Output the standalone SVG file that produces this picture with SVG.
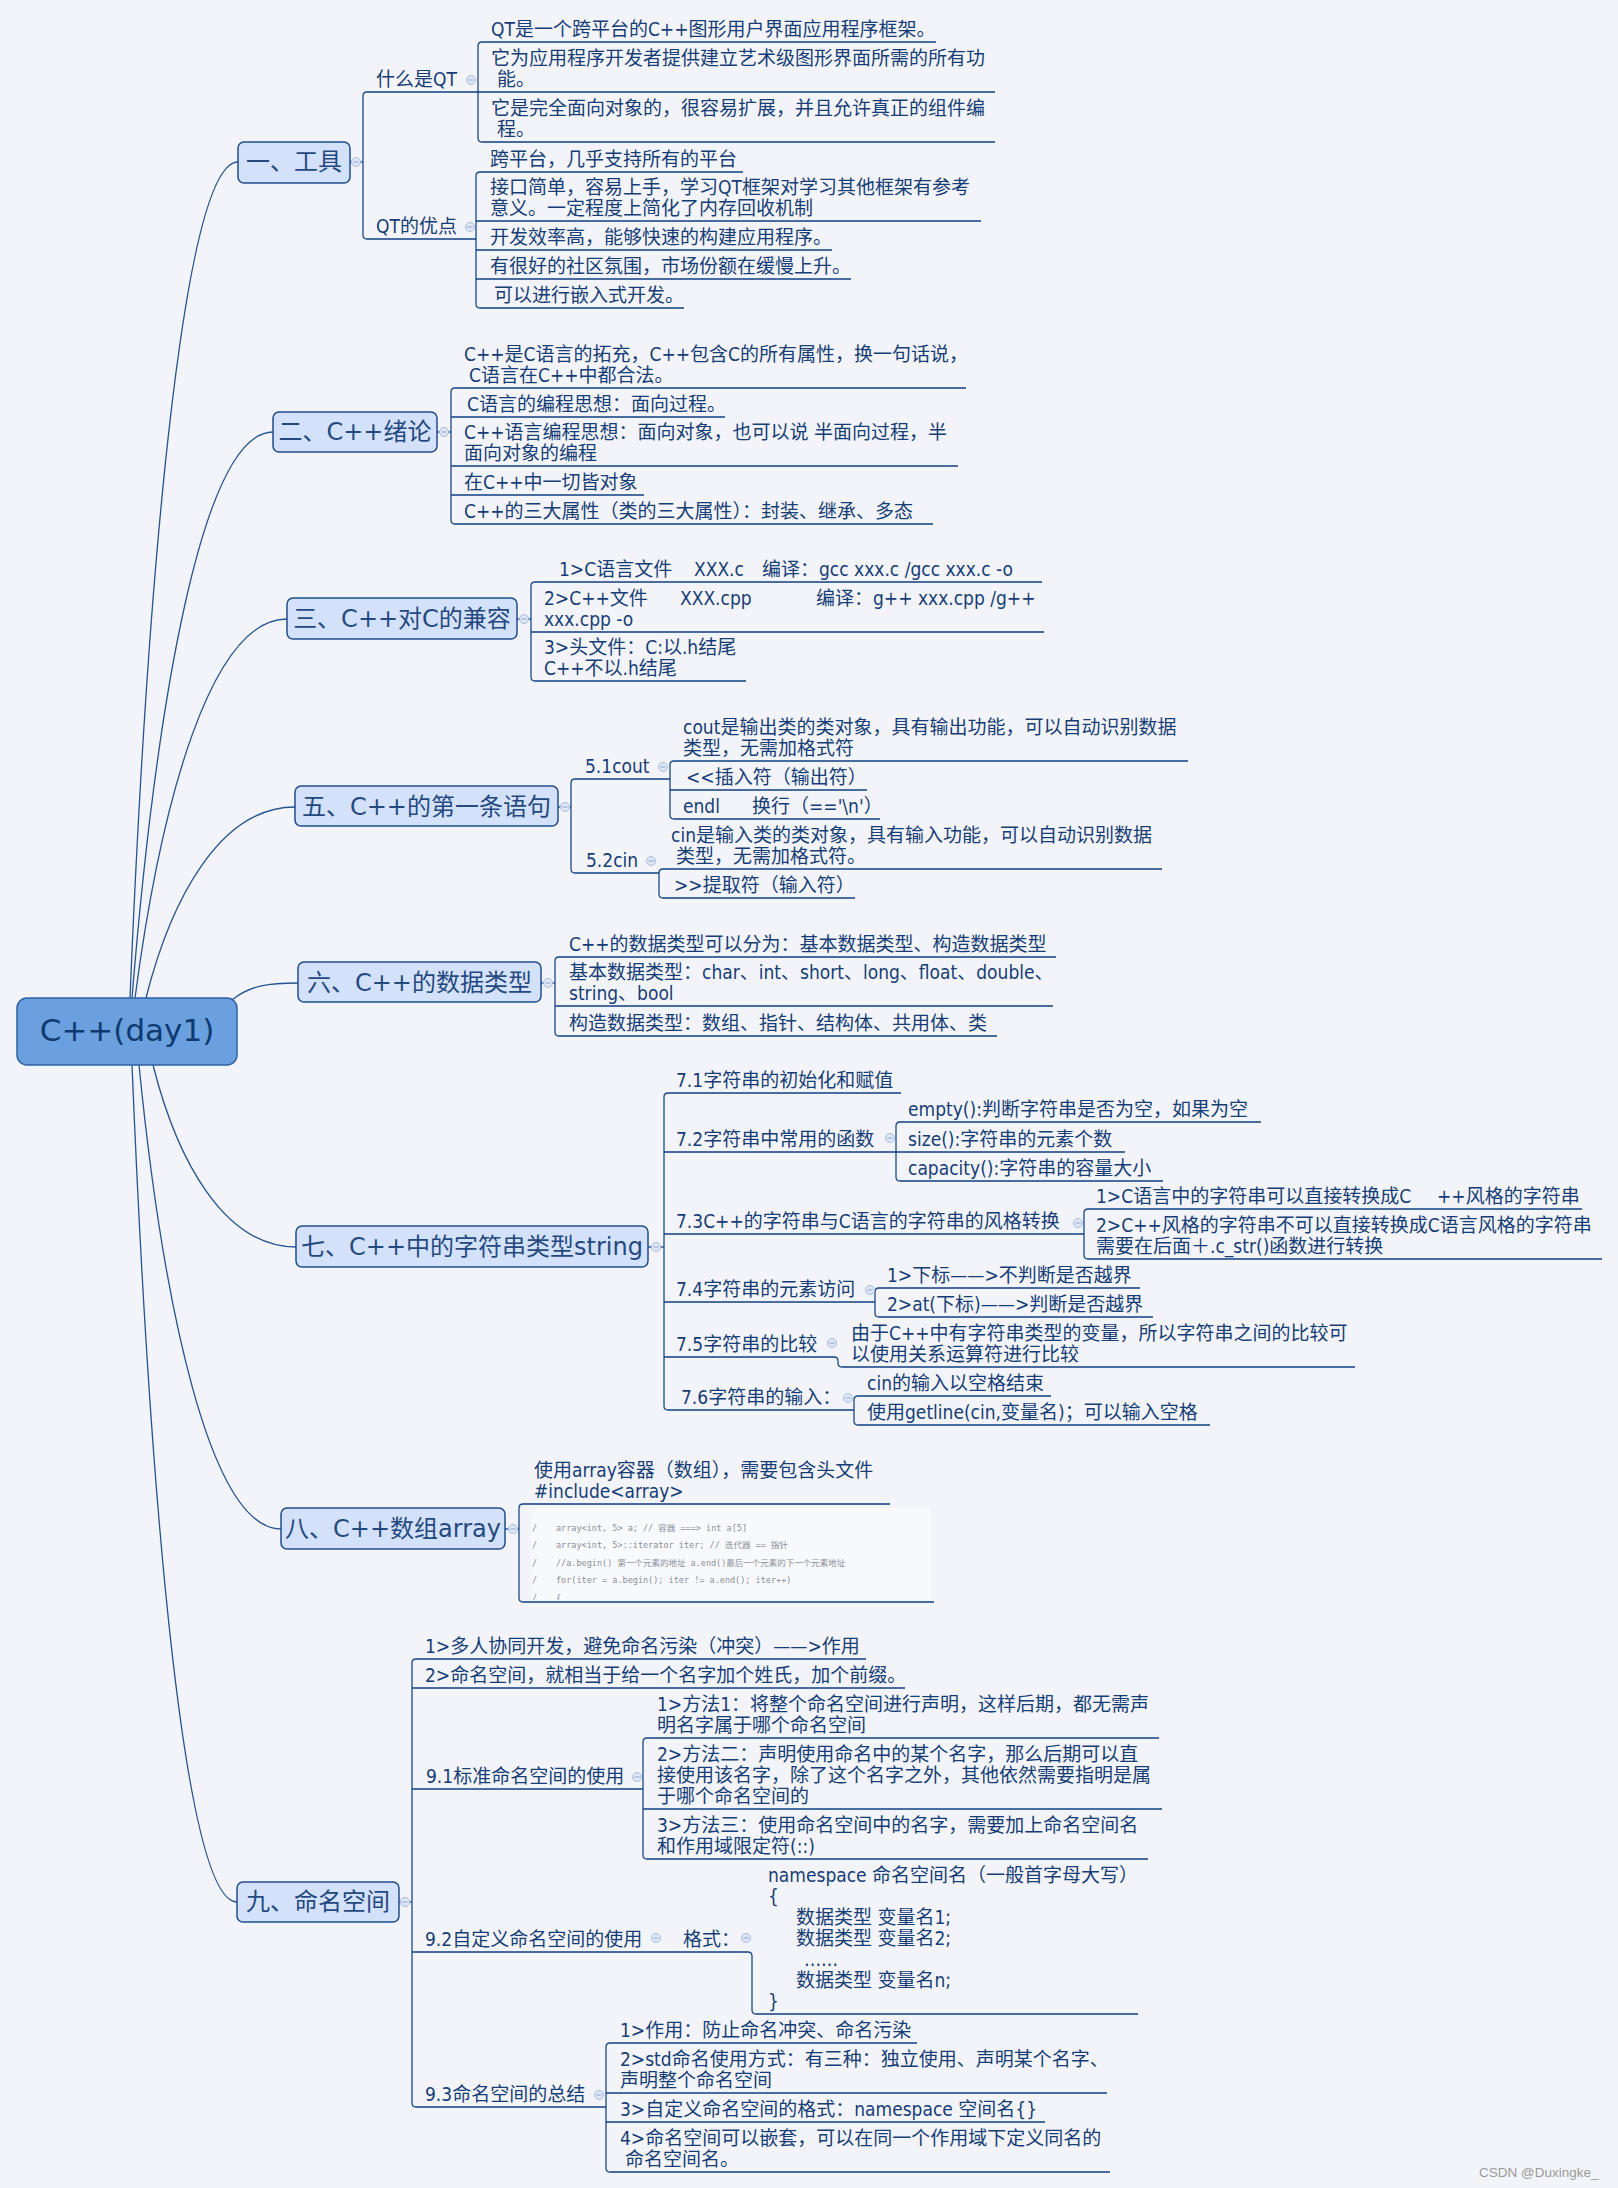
<svg xmlns="http://www.w3.org/2000/svg" xmlns:xlink="http://www.w3.org/1999/xlink" width="1618" height="2188" viewBox="0 0 1618 2188">
<defs>
<style>
.t{font-family:"DejaVu Sans Condensed","DejaVu Sans","Noto Sans CJK SC",sans-serif;font-size:19px;fill:#163d75}
.m{font-family:"DejaVu Sans","Noto Sans CJK SC",sans-serif;font-size:24px;fill:#24497f;text-anchor:middle}
.r{font-family:"DejaVu Sans","Noto Sans CJK SC",sans-serif;font-size:31px;fill:#0e3a70;text-anchor:middle}
.u{fill:none;stroke:#0f3f80;stroke-width:1.6}
.b{fill:none;stroke:#1a4a88;stroke-width:1.3}
.c{fill:none;stroke:#25548f;stroke-width:1.3}
.box{fill:#d4e1fb;stroke:#1f4d8c;stroke-width:1.5}
.code{font-family:"DejaVu Sans Mono","Noto Sans CJK SC",monospace;font-size:8.5px;fill:#8a8f99}
.wm{font-family:"Liberation Sans",Arial,sans-serif;font-size:13.5px;fill:#9a9a9a}
</style>
<g id="col"><circle cx="0" cy="0" r="4.5" fill="#dfe7f6" stroke="#a9bbdd" stroke-width="1"/><path d="M-2.5 0H2.5" stroke="#8ea5d0" stroke-width="1"/></g>
<clipPath id="codeclip"><rect x="531" y="1508" width="400" height="92"/></clipPath>
</defs>
<rect width="1618" height="2188" fill="#f3f4f9"/>

<g id="connectors">
<path class="c" d="M130,998 C148,563 184,162 238,162"/>
<path class="c" d="M132,998 C156,704 202,432 273,432"/>
<path class="c" d="M135,998 C161,801 211,619 287,619"/>
<path class="c" d="M146,998 C171,899 220,807 295,807"/>
<path class="c" d="M232,1000 C250,985 270,983 298,983"/>
<path class="c" d="M153,1065 C177,1160 224,1247 296,1247"/>
<path class="c" d="M139,1065 C163,1306 210,1529 281,1529"/>
<path class="c" d="M132,1065 C150,1500 184,1902 237,1902"/>
<!-- section 1 -->
<path class="b" d="M350,162H363"/>
<path class="b" d="M367,92 Q363,92 363,96 V235 Q363,239 367,239"/>
<path class="b" d="M482,42 Q478,42 478,46 V138 Q478,142 482,142"/>
<path class="b" d="M480,172 Q476,172 476,176 V304 Q476,308 480,308"/>
<!-- section 2 -->
<path class="b" d="M437,432H451"/>
<path class="b" d="M455,388 Q451,388 451,392 V520 Q451,524 455,524"/>
<!-- section 3 -->
<path class="b" d="M517,619H531"/>
<path class="b" d="M535,582 Q531,582 531,586 V677 Q531,681 535,681"/>
<!-- section 5 -->
<path class="b" d="M558,807H571"/>
<path class="b" d="M575,779 Q571,779 571,783 V869 Q571,873 575,873"/>
<path class="b" d="M674,761 Q670,761 670,765 V815 Q670,819 674,819"/>
<path class="b" d="M663,869 Q659,869 659,873 V894 Q659,898 663,898"/>
<!-- section 6 -->
<path class="b" d="M541,983H555"/>
<path class="b" d="M559,957 Q555,957 555,961 V1032 Q555,1036 559,1036"/>
<!-- section 7 -->
<path class="b" d="M648,1247H664"/>
<path class="b" d="M668,1093 Q664,1093 664,1097 V1406 Q664,1410 668,1410"/>
<path class="b" d="M900,1122 Q896,1122 896,1126 V1177 Q896,1181 900,1181"/>
<path class="b" d="M1088,1209 Q1084,1209 1084,1213 V1255 Q1084,1259 1088,1259"/>
<path class="b" d="M879,1288 Q875,1288 875,1292 V1313 Q875,1317 879,1317"/>
<path class="b" d="M834,1357 Q838,1357 838,1361 V1363 Q838,1367 842,1367"/>
<path class="b" d="M858,1396 Q854,1396 854,1400 V1421 Q854,1425 858,1425"/>
<!-- section 8 -->
<path class="b" d="M505,1529H519"/>
<path class="b" d="M523,1504 Q519,1504 519,1508 V1598 Q519,1602 523,1602"/>
<!-- section 9 -->
<path class="b" d="M399,1902H412"/>
<path class="b" d="M416,1659 Q412,1659 412,1663 V2103 Q412,2107 416,2107"/>
<path class="b" d="M647,1738 Q643,1738 643,1742 V1855 Q643,1859 647,1859"/>
<path class="b" d="M748,1952 Q752,1952 752,1956 V2010 Q752,2014 756,2014"/>
<path class="b" d="M610,2043 Q606,2043 606,2047 V2168 Q606,2172 610,2172"/>
</g>

<g id="root">
<rect x="17" y="998" width="220" height="67" rx="10" fill="#6aa0de" stroke="#2e62a3" stroke-width="1.5"/>
<text class="r" x="127" y="1041">C++(day1)</text>
</g>

<!-- ===== 一、工具 ===== -->
<g id="n1">
<rect class="box" x="238" y="142" width="112" height="41" rx="6"/>
<text class="m" x="294" y="170">一、工具</text>
<use href="#col" x="356" y="162"/>
</g>
<g id="n1-1">
<text class="t" x="376" y="86">什么是QT</text>
<path class="u" d="M367,92H478"/>
<use href="#col" x="471" y="80"/>
</g>
<g id="n1-1-1"><text class="t" x="491" y="36">QT是一个跨平台的C++图形用户界面应用程序框架。</text><path class="u" d="M482,42H936"/></g>
<g id="n1-1-2"><text class="t" x="491" y="65">它为应用程序开发者提供建立艺术级图形界面所需的所有功</text><text class="t" x="497" y="86">能。</text><path class="u" d="M478,92H995"/></g>
<g id="n1-1-3"><text class="t" x="491" y="115">它是完全面向对象的，很容易扩展，并且允许真正的组件编</text><text class="t" x="497" y="136">程。</text><path class="u" d="M482,142H995"/></g>
<g id="n1-2">
<text class="t" x="376" y="233">QT的优点</text>
<path class="u" d="M367,239H476"/>
<use href="#col" x="470" y="227"/>
</g>
<g id="n1-2-1"><text class="t" x="490" y="166">跨平台，几乎支持所有的平台</text><path class="u" d="M480,172H743"/></g>
<g id="n1-2-2"><text class="t" x="490" y="194">接口简单，容易上手，学习QT框架对学习其他框架有参考</text><text class="t" x="490" y="215">意义。一定程度上简化了内存回收机制</text><path class="u" d="M476,221H981"/></g>
<g id="n1-2-3"><text class="t" x="490" y="244">开发效率高，能够快速的构建应用程序。</text><path class="u" d="M476,250H832"/></g>
<g id="n1-2-4"><text class="t" x="490" y="273">有很好的社区氛围，市场份额在缓慢上升。</text><path class="u" d="M476,279H851"/></g>
<g id="n1-2-5"><text class="t" x="494" y="302">可以进行嵌入式开发。</text><path class="u" d="M480,308H684"/></g>

<!-- ===== 二、C++绪论 ===== -->
<g id="n2">
<rect class="box" x="273" y="412" width="164" height="40" rx="6"/>
<text class="m" x="355" y="440">二、C++绪论</text>
<use href="#col" x="444" y="432"/>
</g>
<g id="n2-1"><text class="t" x="464" y="361">C++是C语言的拓充，C++包含C的所有属性，换一句话说，</text><text class="t" x="469" y="382">C语言在C++中都合法。</text><path class="u" d="M455,388H966"/></g>
<g id="n2-2"><text class="t" x="467" y="411">C语言的编程思想：面向过程。</text><path class="u" d="M451,417H725"/></g>
<g id="n2-3"><text class="t" x="464" y="439">C++语言编程思想：面向对象，也可以说 半面向过程，半</text><text class="t" x="464" y="460">面向对象的编程</text><path class="u" d="M451,466H958"/></g>
<g id="n2-4"><text class="t" x="464" y="489">在C++中一切皆对象</text><path class="u" d="M451,495H644"/></g>
<g id="n2-5"><text class="t" x="464" y="518">C++的三大属性（类的三大属性）：封装、继承、多态</text><path class="u" d="M455,524H933"/></g>

<!-- ===== 三、C++对C的兼容 ===== -->
<g id="n3">
<rect class="box" x="287" y="598" width="230" height="41" rx="6"/>
<text class="m" x="402" y="627">三、C++对C的兼容</text>
<use href="#col" x="524" y="619"/>
</g>
<g id="n3-1"><text class="t" x="559" y="576">1&gt;C语言文件<tspan x="694">XXX.c</tspan><tspan x="762">编译：gcc xxx.c /gcc xxx.c -o</tspan></text><path class="u" d="M535,582H1042"/></g>
<g id="n3-2"><text class="t" x="544" y="605">2&gt;C++文件<tspan x="680">XXX.cpp</tspan><tspan x="816">编译：g++ xxx.cpp /g++</tspan></text><text class="t" x="544" y="626">xxx.cpp -o</text><path class="u" d="M531,632H1044"/></g>
<g id="n3-3"><text class="t" x="544" y="654">3&gt;头文件：C:以.h结尾</text><text class="t" x="544" y="675">C++不以.h结尾</text><path class="u" d="M535,681H746"/></g>

<!-- ===== 五、C++的第一条语句 ===== -->
<g id="n5">
<rect class="box" x="295" y="786" width="263" height="40" rx="6"/>
<text class="m" x="426.5" y="815">五、C++的第一条语句</text>
<use href="#col" x="565" y="807"/>
</g>
<g id="n5-1">
<text class="t" x="585" y="773">5.1cout</text>
<path class="u" d="M575,779H670"/>
<use href="#col" x="663" y="767"/>
</g>
<g id="n5-1-1"><text class="t" x="683" y="734">cout是输出类的类对象，具有输出功能，可以自动识别数据</text><text class="t" x="683" y="755">类型，无需加格式符</text><path class="u" d="M674,761H1188"/></g>
<g id="n5-1-2"><text class="t" x="686" y="784">&lt;&lt;插入符（输出符）</text><path class="u" d="M670,790H867"/></g>
<g id="n5-1-3"><text class="t" x="683" y="813">endl<tspan x="752">换行（=='\n'）</tspan></text><path class="u" d="M674,819H880"/></g>
<g id="n5-2">
<text class="t" x="586" y="867">5.2cin</text>
<path class="u" d="M575,873H659"/>
<use href="#col" x="651" y="861"/>
</g>
<g id="n5-2-1"><text class="t" x="671" y="842">cin是输入类的类对象，具有输入功能，可以自动识别数据</text><text class="t" x="676" y="863">类型，无需加格式符。</text><path class="u" d="M663,869H1162"/></g>
<g id="n5-2-2"><text class="t" x="674" y="892">&gt;&gt;提取符（输入符）</text><path class="u" d="M663,898H855"/></g>

<!-- ===== 六、C++的数据类型 ===== -->
<g id="n6">
<rect class="box" x="298" y="962" width="243" height="40" rx="6"/>
<text class="m" x="419.5" y="991">六、C++的数据类型</text>
<use href="#col" x="548" y="983"/>
</g>
<g id="n6-1"><text class="t" x="569" y="951">C++的数据类型可以分为：基本数据类型、构造数据类型</text><path class="u" d="M559,957H1056"/></g>
<g id="n6-2"><text class="t" x="569" y="979">基本数据类型：char、int、short、long、float、double、</text><text class="t" x="569" y="1000">string、bool</text><path class="u" d="M555,1006H1053"/></g>
<g id="n6-3"><text class="t" x="569" y="1030">构造数据类型：数组、指针、结构体、共用体、类</text><path class="u" d="M559,1036H997"/></g>

<!-- ===== 七、C++中的字符串类型string ===== -->
<g id="n7">
<rect class="box" x="296" y="1226" width="352" height="41" rx="6"/>
<text class="m" x="472" y="1255">七、C++中的字符串类型string</text>
<use href="#col" x="656" y="1247"/>
</g>
<g id="n7-1"><text class="t" x="676" y="1087">7.1字符串的初始化和赋值</text><path class="u" d="M668,1093H901"/></g>
<g id="n7-2">
<text class="t" x="676" y="1146">7.2字符串中常用的函数</text>
<path class="u" d="M664,1152H896"/>
<use href="#col" x="890" y="1138"/>
</g>
<g id="n7-2-1"><text class="t" x="908" y="1116">empty():判断字符串是否为空，如果为空</text><path class="u" d="M900,1122H1261"/></g>
<g id="n7-2-2"><text class="t" x="908" y="1146">size():字符串的元素个数</text><path class="u" d="M896,1152H1125"/></g>
<g id="n7-2-3"><text class="t" x="908" y="1175">capacity():字符串的容量大小</text><path class="u" d="M900,1181H1163"/></g>
<g id="n7-3">
<text class="t" x="676" y="1228">7.3C++的字符串与C语言的字符串的风格转换</text>
<path class="u" d="M664,1234H1084"/>
<use href="#col" x="1078" y="1223"/>
</g>
<g id="n7-3-1"><text class="t" x="1096" y="1203">1&gt;C语言中的字符串可以直接转换成C<tspan x="1437">++风格的字符串</tspan></text><path class="u" d="M1088,1209H1582"/></g>
<g id="n7-3-2"><text class="t" x="1096" y="1232">2&gt;C++风格的字符串不可以直接转换成C语言风格的字符串</text><text class="t" x="1096" y="1253">需要在后面＋.c_str()函数进行转换</text><path class="u" d="M1088,1259H1602"/></g>
<g id="n7-4">
<text class="t" x="676" y="1296">7.4字符串的元素访问</text>
<path class="u" d="M664,1302H875"/>
<use href="#col" x="870" y="1290"/>
</g>
<g id="n7-4-1"><text class="t" x="887" y="1282">1&gt;下标——&gt;不判断是否越界</text><path class="u" d="M879,1288H1140"/></g>
<g id="n7-4-2"><text class="t" x="887" y="1311">2&gt;at(下标)——&gt;判断是否越界</text><path class="u" d="M879,1317H1153"/></g>
<g id="n7-5">
<text class="t" x="676" y="1351">7.5字符串的比较</text>
<path class="u" d="M664,1357H834"/>
<use href="#col" x="832" y="1343"/>
</g>
<g id="n7-5-1"><text class="t" x="851" y="1340">由于C++中有字符串类型的变量，所以字符串之间的比较可</text><text class="t" x="851" y="1361">以使用关系运算符进行比较</text><path class="u" d="M842,1367H1355"/></g>
<g id="n7-6">
<text class="t" x="681" y="1404">7.6字符串的输入：</text>
<path class="u" d="M668,1410H854"/>
<use href="#col" x="848" y="1398"/>
</g>
<g id="n7-6-1"><text class="t" x="867" y="1390">cin的输入以空格结束</text><path class="u" d="M858,1396H1051"/></g>
<g id="n7-6-2"><text class="t" x="867" y="1419">使用getline(cin,变量名)；可以输入空格</text><path class="u" d="M858,1425H1210"/></g>

<!-- ===== 八、C++数组array ===== -->
<g id="n8">
<rect class="box" x="281" y="1508" width="224" height="41" rx="6"/>
<text class="m" x="393" y="1537">八、C++数组array</text>
<use href="#col" x="513" y="1529"/>
</g>
<g id="n8-1"><text class="t" x="534" y="1477">使用array容器（数组），需要包含头文件</text><text class="t" x="534" y="1498">#include&lt;array&gt;</text><path class="u" d="M523,1504H890"/></g>
<g id="n8-2">
<rect x="531" y="1508" width="400" height="92" fill="#f8f9fc"/>
<g clip-path="url(#codeclip)">
<text class="code" x="532" y="1531">/</text><text class="code" x="556" y="1531">array&lt;int, 5&gt; a; // 容器 ===&gt; int a[5]</text>
<text class="code" x="532" y="1548">/</text><text class="code" x="556" y="1548">array&lt;int, 5&gt;::iterator iter; // 迭代器  == 指针</text>
<text class="code" x="532" y="1566">/</text><text class="code" x="556" y="1566">//a.begin() 第一个元素的地址    a.end()最后一个元素的下一个元素地址</text>
<text class="code" x="532" y="1583">/</text><text class="code" x="556" y="1583">for(iter = a.begin(); iter != a.end(); iter++)</text>
<text class="code" x="532" y="1601">/</text><text class="code" x="556" y="1601">{</text>
</g>
<path class="u" d="M523,1602H934"/>
</g>

<!-- ===== 九、命名空间 ===== -->
<g id="n9">
<rect class="box" x="237" y="1882" width="162" height="40" rx="6"/>
<text class="m" x="318" y="1910">九、命名空间</text>
<use href="#col" x="405" y="1902"/>
</g>
<g id="n9-1"><text class="t" x="425" y="1653">1&gt;多人协同开发，避免命名污染（冲突）——&gt;作用</text><path class="u" d="M416,1659H866"/></g>
<g id="n9-2"><text class="t" x="425" y="1682">2&gt;命名空间，就相当于给一个名字加个姓氏，加个前缀。</text><path class="u" d="M412,1688H905"/></g>
<g id="n9-3">
<text class="t" x="426" y="1783">9.1标准命名空间的使用</text>
<path class="u" d="M412,1789H643"/>
<use href="#col" x="637" y="1777"/>
</g>
<g id="n9-3-1"><text class="t" x="657" y="1711">1&gt;方法1：将整个命名空间进行声明，这样后期，都无需声</text><text class="t" x="657" y="1732">明名字属于哪个命名空间</text><path class="u" d="M647,1738H1159"/></g>
<g id="n9-3-2"><text class="t" x="657" y="1761">2&gt;方法二：声明使用命名中的某个名字，那么后期可以直</text><text class="t" x="657" y="1782">接使用该名字，除了这个名字之外，其他依然需要指明是属</text><text class="t" x="657" y="1803">于哪个命名空间的</text><path class="u" d="M643,1809H1162"/></g>
<g id="n9-3-3"><text class="t" x="657" y="1832">3&gt;方法三：使用命名空间中的名字，需要加上命名空间名</text><text class="t" x="657" y="1853">和作用域限定符(::)</text><path class="u" d="M647,1859H1148"/></g>
<g id="n9-4">
<text class="t" x="425" y="1946">9.2自定义命名空间的使用</text>
<path class="u" d="M412,1952H668"/>
<use href="#col" x="656" y="1938"/>
</g>
<g id="n9-4-1">
<text class="t" x="683" y="1946">格式：</text>
<path class="u" d="M668,1952H748"/>
<use href="#col" x="746" y="1938"/>
</g>
<g id="n9-4-1-1">
<text class="t" x="768" y="1882">namespace 命名空间名（一般首字母大写）</text>
<text class="t" x="768" y="1903">{</text>
<text class="t" x="796" y="1924">数据类型 变量名1;</text>
<text class="t" x="796" y="1945">数据类型 变量名2;</text>
<text class="t" x="804" y="1966">……</text>
<text class="t" x="796" y="1987">数据类型 变量名n;</text>
<text class="t" x="768" y="2008">}</text>
<path class="u" d="M756,2014H1138"/>
</g>
<g id="n9-5">
<text class="t" x="425" y="2101">9.3命名空间的总结</text>
<path class="u" d="M416,2107H606"/>
<use href="#col" x="599" y="2095"/>
</g>
<g id="n9-5-1"><text class="t" x="620" y="2037">1&gt;作用：防止命名冲突、命名污染</text><path class="u" d="M610,2043H917"/></g>
<g id="n9-5-2"><text class="t" x="620" y="2066">2&gt;std命名使用方式：有三种：独立使用、声明某个名字、</text><text class="t" x="620" y="2087">声明整个命名空间</text><path class="u" d="M606,2093H1107"/></g>
<g id="n9-5-3"><text class="t" x="620" y="2116">3&gt;自定义命名空间的格式：namespace 空间名{}</text><path class="u" d="M606,2122H1045"/></g>
<g id="n9-5-4"><text class="t" x="620" y="2145">4&gt;命名空间可以嵌套，可以在同一个作用域下定义同名的</text><text class="t" x="625" y="2166">命名空间名。</text><path class="u" d="M610,2172H1110"/></g>

<text class="wm" x="1479" y="2177">CSDN @Duxingke_</text>
</svg>
